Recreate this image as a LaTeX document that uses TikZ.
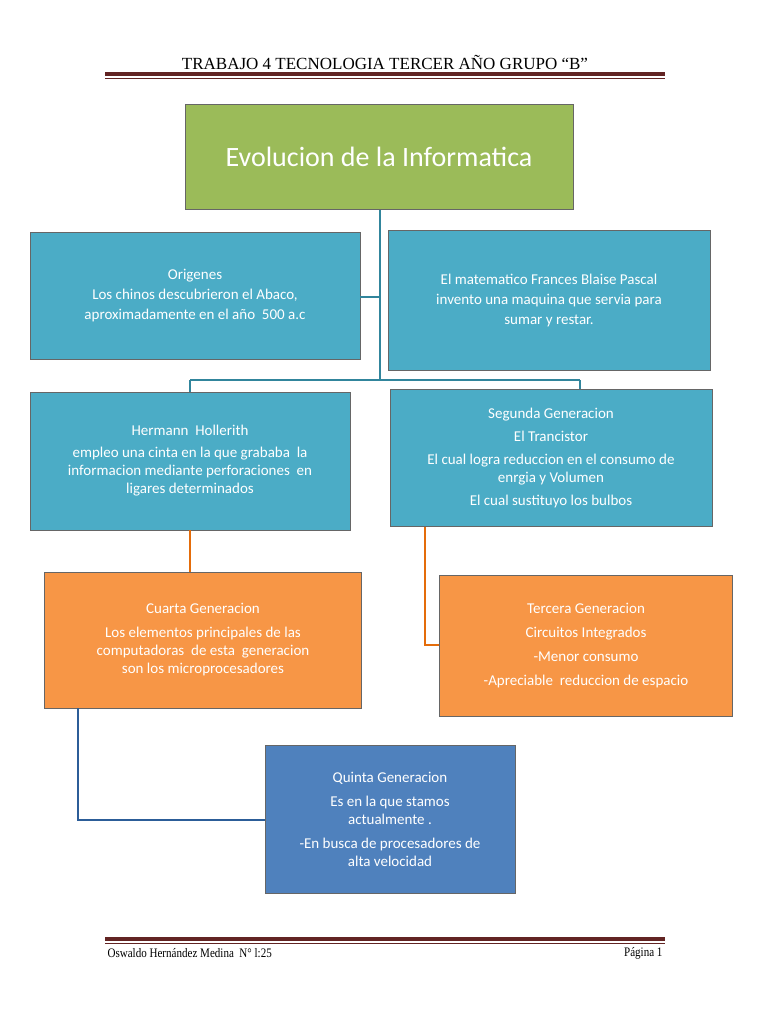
\documentclass[tikz,border=0pt]{standalone}
\usepackage{fontspec}
\setmainfont{Carlito}
\newfontfamily\hdr{Liberation Serif}
\begin{document}
\begin{tikzpicture}[x=1pt,y=-1pt,
  bx/.style={draw=black!60,line width=0.6pt,text=white,align=center,inner sep=2pt,font=\fontsize{15}{20}\selectfont},
  cb/.style={line width=2.5pt,draw=#1}]
\definecolor{grn}{HTML}{9BBB59}\definecolor{cyn}{HTML}{4BACC6}
\definecolor{org}{HTML}{F79646}\definecolor{blu}{HTML}{4F81BD}
\definecolor{cyl}{HTML}{31859C}\definecolor{orl}{HTML}{E46C0A}\definecolor{bll}{HTML}{2C5D98}
\definecolor{drd}{HTML}{622423}
\useasboundingbox (0,0) rectangle (768,1024);
\fill[white] (0,0) rectangle (768,1024);
\node[font=\hdr\fontsize{17}{20}\selectfont] (h) at (385,62) {TRABAJO 4 TECNOLOGIA TERCER AÑO GRUPO “B”};
\fill[drd] (105,72) rectangle (665,76);
\draw[drd,line width=0.6pt] (105,78) -- (665,78);
\fill[drd] (105,937) rectangle (665,941);
\draw[drd,line width=0.6pt] (105,943) -- (665,943);
\node[font=\hdr\fontsize{13}{15}\selectfont,anchor=west] (f1) at (104,953) {\scalebox{0.85}[1]{Oswaldo Hernández Medina \ N° l:25}};
\node[font=\hdr\fontsize{13}{15}\selectfont,anchor=east] (f2) at (666,953) {\scalebox{0.85}[1]{Página 1}};
% connectors
\coordinate (j1) at (380,297); \coordinate (j2) at (380,380);
\coordinate (jl) at (190,380); \coordinate (jr) at (580,380);
\coordinate (k1) at (425,645); \coordinate (k2) at (78,820);
% boxes
\node[bx,fill=grn,minimum width=388,minimum height=105,font=\fontsize{28}{32}\selectfont] (t) at (379,157) {Evolucion de la Informatica};
\node[bx,fill=cyn,minimum width=330,minimum height=127] (o) at (195,296) {Origenes\\Los chinos descubrieron el Abaco,\\aproximadamente en el año \ 500 a.c};
\node[bx,fill=cyn,minimum width=322,minimum height=140] (p) at (549,300) {El matematico Frances Blaise Pascal\\invento una maquina que servia para\\sumar y restar.};
\node[bx,fill=cyn,minimum width=320,minimum height=138,font=\fontsize{15}{18}\selectfont] (hh) at (190,461) {Hermann \ Hollerith\\[4pt]empleo una cinta en la que grababa \ la\\informacion mediante perforaciones \ en\\ligares determinados};
\node[bx,fill=cyn,minimum width=322,minimum height=137,font=\fontsize{15}{18}\selectfont] (s) at (551,458) {Segunda Generacion\\[5pt]El Trancistor\\[5pt]El cual logra reduccion en el consumo de\\enrgia y Volumen\\[5pt]El cual sustituyo los bulbos};
\node[bx,fill=org,minimum width=317,minimum height=136,font=\fontsize{15}{18}\selectfont] (c) at (203,640) {Cuarta Generacion\\[6pt]Los elementos principales de las\\computadoras \ de esta \ generacion\\son los microprocesadores};
\node[bx,fill=org,minimum width=293,minimum height=141,font=\fontsize{15}{18}\selectfont] (te) at (586,646) {Tercera Generacion\\[6pt]Circuitos Integrados\\[6pt]-Menor consumo\\[6pt]-Apreciable \ reduccion de espacio};
\node[bx,fill=blu,minimum width=250,minimum height=148,font=\fontsize{15}{18}\selectfont] (q) at (390,819) {Quinta Generacion\\[6pt]Es en la que stamos\\actualmente .\\[6pt]-En busca de procesadores de\\alta velocidad};
\draw[cb=cyl] (t.south -| j1) -- (j2);
\draw[cb=cyl] (o.east |- j1) -- (j1);
\draw[cb=cyl] (jl) -- (jr);
\draw[cb=cyl] (jl) -- (hh.north -| jl);
\draw[cb=cyl] (jr) -- (s.north -| jr);
\draw[cb=orl] (hh.south -| jl) -- (c.north -| jl);
\draw[cb=orl] (s.south -| k1) -- (k1) -- (te.west |- k1);
\draw[cb=bll] (c.south -| k2) -- (k2) -- (q.west |- k2);
\end{tikzpicture}
\end{document}
